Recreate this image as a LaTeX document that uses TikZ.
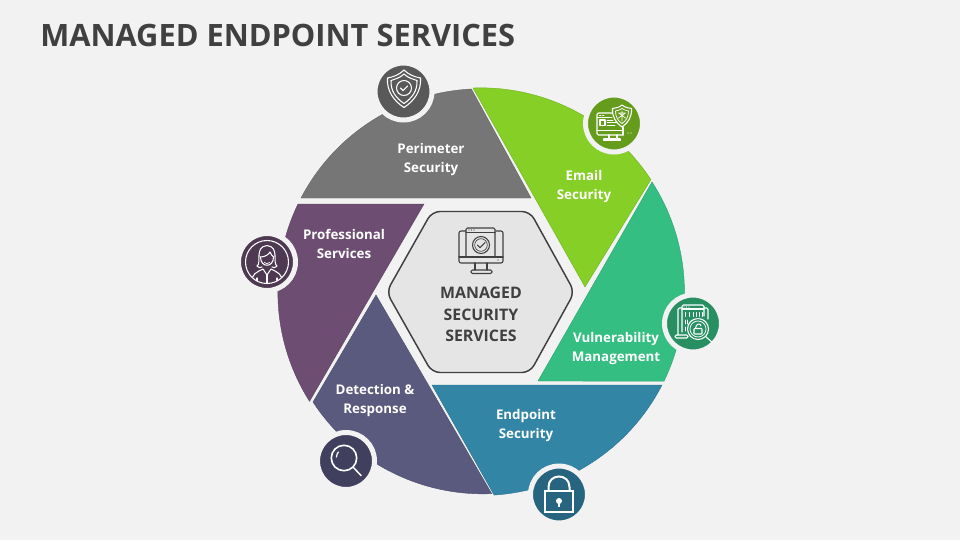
\documentclass[tikz,border=0pt]{standalone}
\usepackage{fontspec}
\setmainfont{Open Sans}
\definecolor{bgc}{HTML}{F2F2F2}
\definecolor{titlec}{HTML}{404040}
\definecolor{perimc}{HTML}{767676}\definecolor{perimd}{HTML}{595959}
\definecolor{emailc}{HTML}{86CF27}\definecolor{emaild}{HTML}{659C1C}
\definecolor{vulnc}{HTML}{34BE82}\definecolor{vulnd}{HTML}{288F62}
\definecolor{endpc}{HTML}{3385A6}\definecolor{endpd}{HTML}{266480}
\definecolor{detc}{HTML}{5A5A7E}\definecolor{detd}{HTML}{40405E}
\definecolor{profc}{HTML}{6D4E72}\definecolor{profd}{HTML}{4E3852}
\tikzset{
  seglabel/.style={font=\bfseries\fontsize{10pt}{14.25pt}\selectfont,text=white,align=center,inner sep=0pt},
  iconbadge/.style={circle,minimum size=42.75pt,inner sep=0pt,outer sep=0pt,draw=bgc,line width=3.75pt},
  wl/.style={draw=white,line width=0.8pt,line cap=round,line join=round,fill=none},
  wt/.style={draw=white,line width=0.55pt,line cap=round,line join=round,fill=none},
  gl/.style={draw=titlec,line width=0.8pt,line cap=round,line join=round,fill=none},
}
\begin{document}
\begin{tikzpicture}[x=0.75pt,y=0.75pt,yscale=-1]
\useasboundingbox (0,0) rectangle (960,540);
\fill[bgc] (0,0) rectangle (960,540);
\node[anchor=west,inner sep=0pt,text=titlec,font=\bfseries\fontsize{23.1pt}{28pt}\selectfont] (title) at (40,35) {MANAGED ENDPOINT SERVICES};
% segments
\fill[perimc,draw=perimc!85!black,line width=0.3pt] (301,198) arc[start angle=-152.4,end angle=-92.8,radius=203.5] -- (531,198) -- cycle;
\fill[emailc,draw=emailc!85!black,line width=0.3pt] (473,88) arc[start angle=-92.2,end angle=-33.3,radius=203.5] -- (585,287) -- cycle;
\fill[vulnc,draw=vulnc!85!black,line width=0.3pt] (652,182) arc[start angle=-32.8,end angle=25.9,radius=203.5] -- (538,381) -- cycle;
\fill[endpc,draw=endpc!85!black,line width=0.3pt] (662,385) arc[start angle=27.2,end angle=86.3,radius=203.5] -- (432,385) -- cycle;
\fill[detc,draw=detc!85!black,line width=0.3pt] (313,402) arc[start angle=146.8,end angle=87.5,radius=203] -- (376,295) -- cycle;
\fill[profc,draw=profc!85!black,line width=0.3pt] (298,204) arc[start angle=205.7,end angle=147.6,radius=203.5] -- (424,204) -- cycle;
% hexagon
\draw[fill=black!10,draw=titlec,line width=1.1pt,rounded corners=6pt] (386.5,292) -- (432,211.5) -- (530,211.5) -- (574.5,292) -- (530,372.5) -- (432,372.5) -- cycle;
% badges
\node[iconbadge,fill=perimd] (bperim) at (403.5,91.5) {};
\node[iconbadge,fill=emaild] (bemail) at (614,123.5) {};
\node[iconbadge,fill=vulnd] (bvuln) at (693,323.5) {};
\node[iconbadge,fill=endpd] (bendp) at (559,494.5) {};
\node[iconbadge,fill=detd] (bdet) at (346,461) {};
\node[iconbadge,fill=profd] (bprof) at (267,262) {};
% labels
\node[seglabel] (lperim) at (431,159.5) {Perimeter\\Security};
\node[seglabel] (lemail) at (584,186.5) {Email\\Security};
\node[seglabel] (lvuln) at (616,348.5) {Vulnerability\\Management};
\node[seglabel] (lendp) at (526,425.5) {Endpoint\\Security};
\node[seglabel] (ldet) at (375,400.5) {Detection \&\\Response};
\node[seglabel] (lprof) at (344,243.5) {Professional\\Services};
\node[align=center,inner sep=0pt,text=titlec,font=\bfseries\fontsize{11.9pt}{16.1pt}\selectfont] (lcenter) at (481,314.5) {MANAGED\\SECURITY\\SERVICES};
% centre monitor icon
\begin{scope}[shift={(481,250)}]
\draw[gl,rounded corners=1.5pt] (-15,-19) -- (-22,-19) -- (-22,13) -- (22,13) -- (22,-19) -- (15,-19);
\draw[gl] (-22,7) -- (22,7);
\draw[gl,rounded corners=1pt] (-15,7) -- (-15,-22) -- (14,-22) -- (14,7);
\draw[gl] (-15,-17.5) -- (14,-17.5);
\draw[gl] (-6,13) -- (-6,20) (6,13) -- (6,20);
\draw[gl,rounded corners=1pt] (-10,20) rectangle (11,23.5);
\draw[gl] (0,-5) circle[radius=8.5];
\draw[gl,line width=0.5pt] (0,-5) circle[radius=6.3];
\draw[gl] (-3.5,-5) -- (-1,-2.3) -- (4,-7.5);
\fill[titlec] (-12,-20) circle[radius=0.7] (-9.5,-20) circle[radius=0.7] (-7,-20) circle[radius=0.7];
\fill[titlec] (17,10) circle[radius=0.7];
\end{scope}
% perimeter shield
\begin{scope}[shift={(404,89)}]
\draw[wl] (0,-19) .. controls (5,-14) and (11,-12) .. (16.5,-11) .. controls (17.5,2) and (10,12) .. (0,18.5) .. controls (-10,12) and (-17.5,2) .. (-16.5,-11) .. controls (-11,-12) and (-5,-14) .. (0,-19) -- cycle;
\draw[wl] (0,-15) .. controls (4,-11) and (9,-10) .. (13,-8.5) .. controls (13.5,2) and (8,9) .. (0,14.5) .. controls (-8,9) and (-13.5,2) .. (-13,-8.5) .. controls (-9,-10) and (-4,-11) .. (0,-15) -- cycle;
\draw[wl] (0,-1) circle[radius=7.5];
\draw[wl] (-3.5,-1) -- (-1,1.5) -- (3.5,-3);
\end{scope}
% email icon
\begin{scope}[shift={(614,123)}]
\draw[wl,rounded corners=1pt] (-2,-10) -- (-17,-10) -- (-17,12) -- (9,12);
\draw[wl] (-17,7.5) -- (9,7.5);
\draw[wl] (9,12) -- (9,4);
\draw[wl] (-5,12) -- (-5,16) (3,12) -- (3,16);
\draw[wl] (-10,16) -- (6,16) -- (6,17.5) -- (-10,17.5) -- cycle;
\draw[wt] (-17,-6) -- (-2,-6);
\draw[wl] (-14,-3) rectangle (-9,2.5);
\draw[wt] (-7,-3) -- (-1,-3) (-7,-0.5) -- (3,-0.5) (-7,2) -- (1,2);
\draw[wt] (-14.5,-8) -- (-13,-8) (-11.5,-8) -- (-10,-8);
\fill[emaild] (8,-19) .. controls (11,-16.5) and (14,-16) .. (17.5,-15.5) .. controls (18,-6) and (14,0) .. (8,4) .. controls (2,0) and (-2,-6) .. (-1.5,-15.5) .. controls (2,-16) and (5,-16.5) .. (8,-19) -- cycle;
\draw[wl] (8,-18) .. controls (11,-15.5) and (14,-15) .. (17.5,-14.5) .. controls (18,-6) and (14,0) .. (8,4) .. controls (2,0) and (-2,-6) .. (-1.5,-14.5) .. controls (2,-15) and (5,-15.5) .. (8,-18) -- cycle;
\draw[wt] (8,-14.5) .. controls (10,-13) and (12,-12.5) .. (14.5,-12) .. controls (14.5,-6) and (12,-2) .. (8,0.5) .. controls (4,-2) and (1.5,-6) .. (1.5,-12) .. controls (4,-12.5) and (6,-13) .. (8,-14.5) -- cycle;
\draw[wt] (4.5,-10) -- (11.5,-5) (11.5,-10) -- (4.5,-5) (4.5,-10) -- (11.5,-10) (8,-12) -- (8,-2);
\fill[white] (17,10) circle[radius=0.6] (14,10) circle[radius=0.6];
\end{scope}
% vulnerability icon
\begin{scope}[shift={(693,323)}]
\draw[wl,rounded corners=1pt] (-11,9) -- (-11,-18) -- (11,-18) -- (11,-7);
\draw[wl] (-11,-14) -- (11,-14);
\draw[wl,rounded corners=1pt] (-11,-15) -- (-15,-15) -- (-15,12);
\draw[wl,rounded corners=1pt] (11,-15) -- (15,-15) -- (15,-4);
\draw[wl,rounded corners=1pt] (-18,12) -- (-5,12) -- (-5,15) -- (-18,15) -- cycle;
\fill[white] (-9,-16) circle[radius=0.6] (-6.5,-16) circle[radius=0.6] (-4,-16) circle[radius=0.6];
\draw[wt] (-8,-10.5) -- (-8,-6.5) (-4,-10.5) -- (-4,-6.5) (0,-10.5) -- (0,-6.5) (3,-10.5) -- (3,-6.5) (6.5,-10.5) -- (6.5,-6.5) (9,-10.5) -- (9,-6.5);
\draw[wt] (-8,-3) -- (-8,1) (-6,-3) -- (-6,1) (-8,4) -- (-8,8);
\fill[vulnd] (5,6) circle[radius=11];
\draw[wl] (5,6) circle[radius=10.5];
\draw[wt] (5,6) circle[radius=8];
\draw[wl] (12.5,13.5) -- (20,20);
\draw[wl,rounded corners=0.5pt] (1,5.5) rectangle (9,11);
\draw[wl] (2.5,5.5) .. controls (2.5,0) and (8,0) .. (8,3);
\end{scope}
% endpoint lock
\begin{scope}[shift={(559,494)}]
\draw[draw=white,line width=1.5pt,line join=miter] (-14,-3) rectangle (14,18);
\draw[draw=white,line width=1.5pt] (-10.5,-3) -- (-10.5,-7) .. controls (-10.5,-21) and (10.5,-21) .. (10.5,-7) -- (10.5,-3);
\fill[white] (0,7) circle[radius=3];
\draw[draw=white,line width=1.3pt] (0,7) -- (0,12.5);
\end{scope}
% detection magnifier
\begin{scope}[shift={(346,461)}]
\draw[draw=white,line width=1.2pt] (-2,-3) circle[radius=12.7];
\draw[draw=white,line width=1.1pt,line cap=round] (7,6) -- (15,14.5);
\draw[draw=white,line width=0.9pt,line cap=round] (-9.5,-4) .. controls (-9.5,-6.5) and (-8.5,-8) .. (-7.5,-9);
\end{scope}
% professional woman
\begin{scope}[shift={(267,262)}]
\draw[wl] (0,0) circle[radius=21.5];
\clip (0,0) circle[radius=21];
\draw[wl] (-10,4) .. controls (-5,1) and (-13,-15) .. (0,-16.5) .. controls (13,-15) and (5,1) .. (10,4) .. controls (8,6) and (7,6) .. (5,5);
\draw[wl] (-10,4) .. controls (-8,6) and (-7,6) .. (-5,5);
\draw[wl] (-6.5,-5) .. controls (-6.5,6) and (6.5,6) .. (6.5,-5);
\draw[wl] (-6.5,-5) .. controls (-1.5,-5) and (2,-8) .. (3,-10) .. controls (4,-8) and (5,-6) .. (6.5,-5);
\draw[wt] (-2.5,0.5) .. controls (-1,2) and (1,2) .. (2.5,0.5);
\draw[wl] (-16,22) .. controls (-16,12) and (-10,10) .. (-4,7) -- (0,13) -- (4,7) .. controls (10,10) and (16,12) .. (16,22);
\draw[wl] (0,13) -- (0,22);
\draw[wl] (-10,22) -- (-10,16) (10,22) -- (10,16);
\end{scope}
\end{tikzpicture}
\end{document}
